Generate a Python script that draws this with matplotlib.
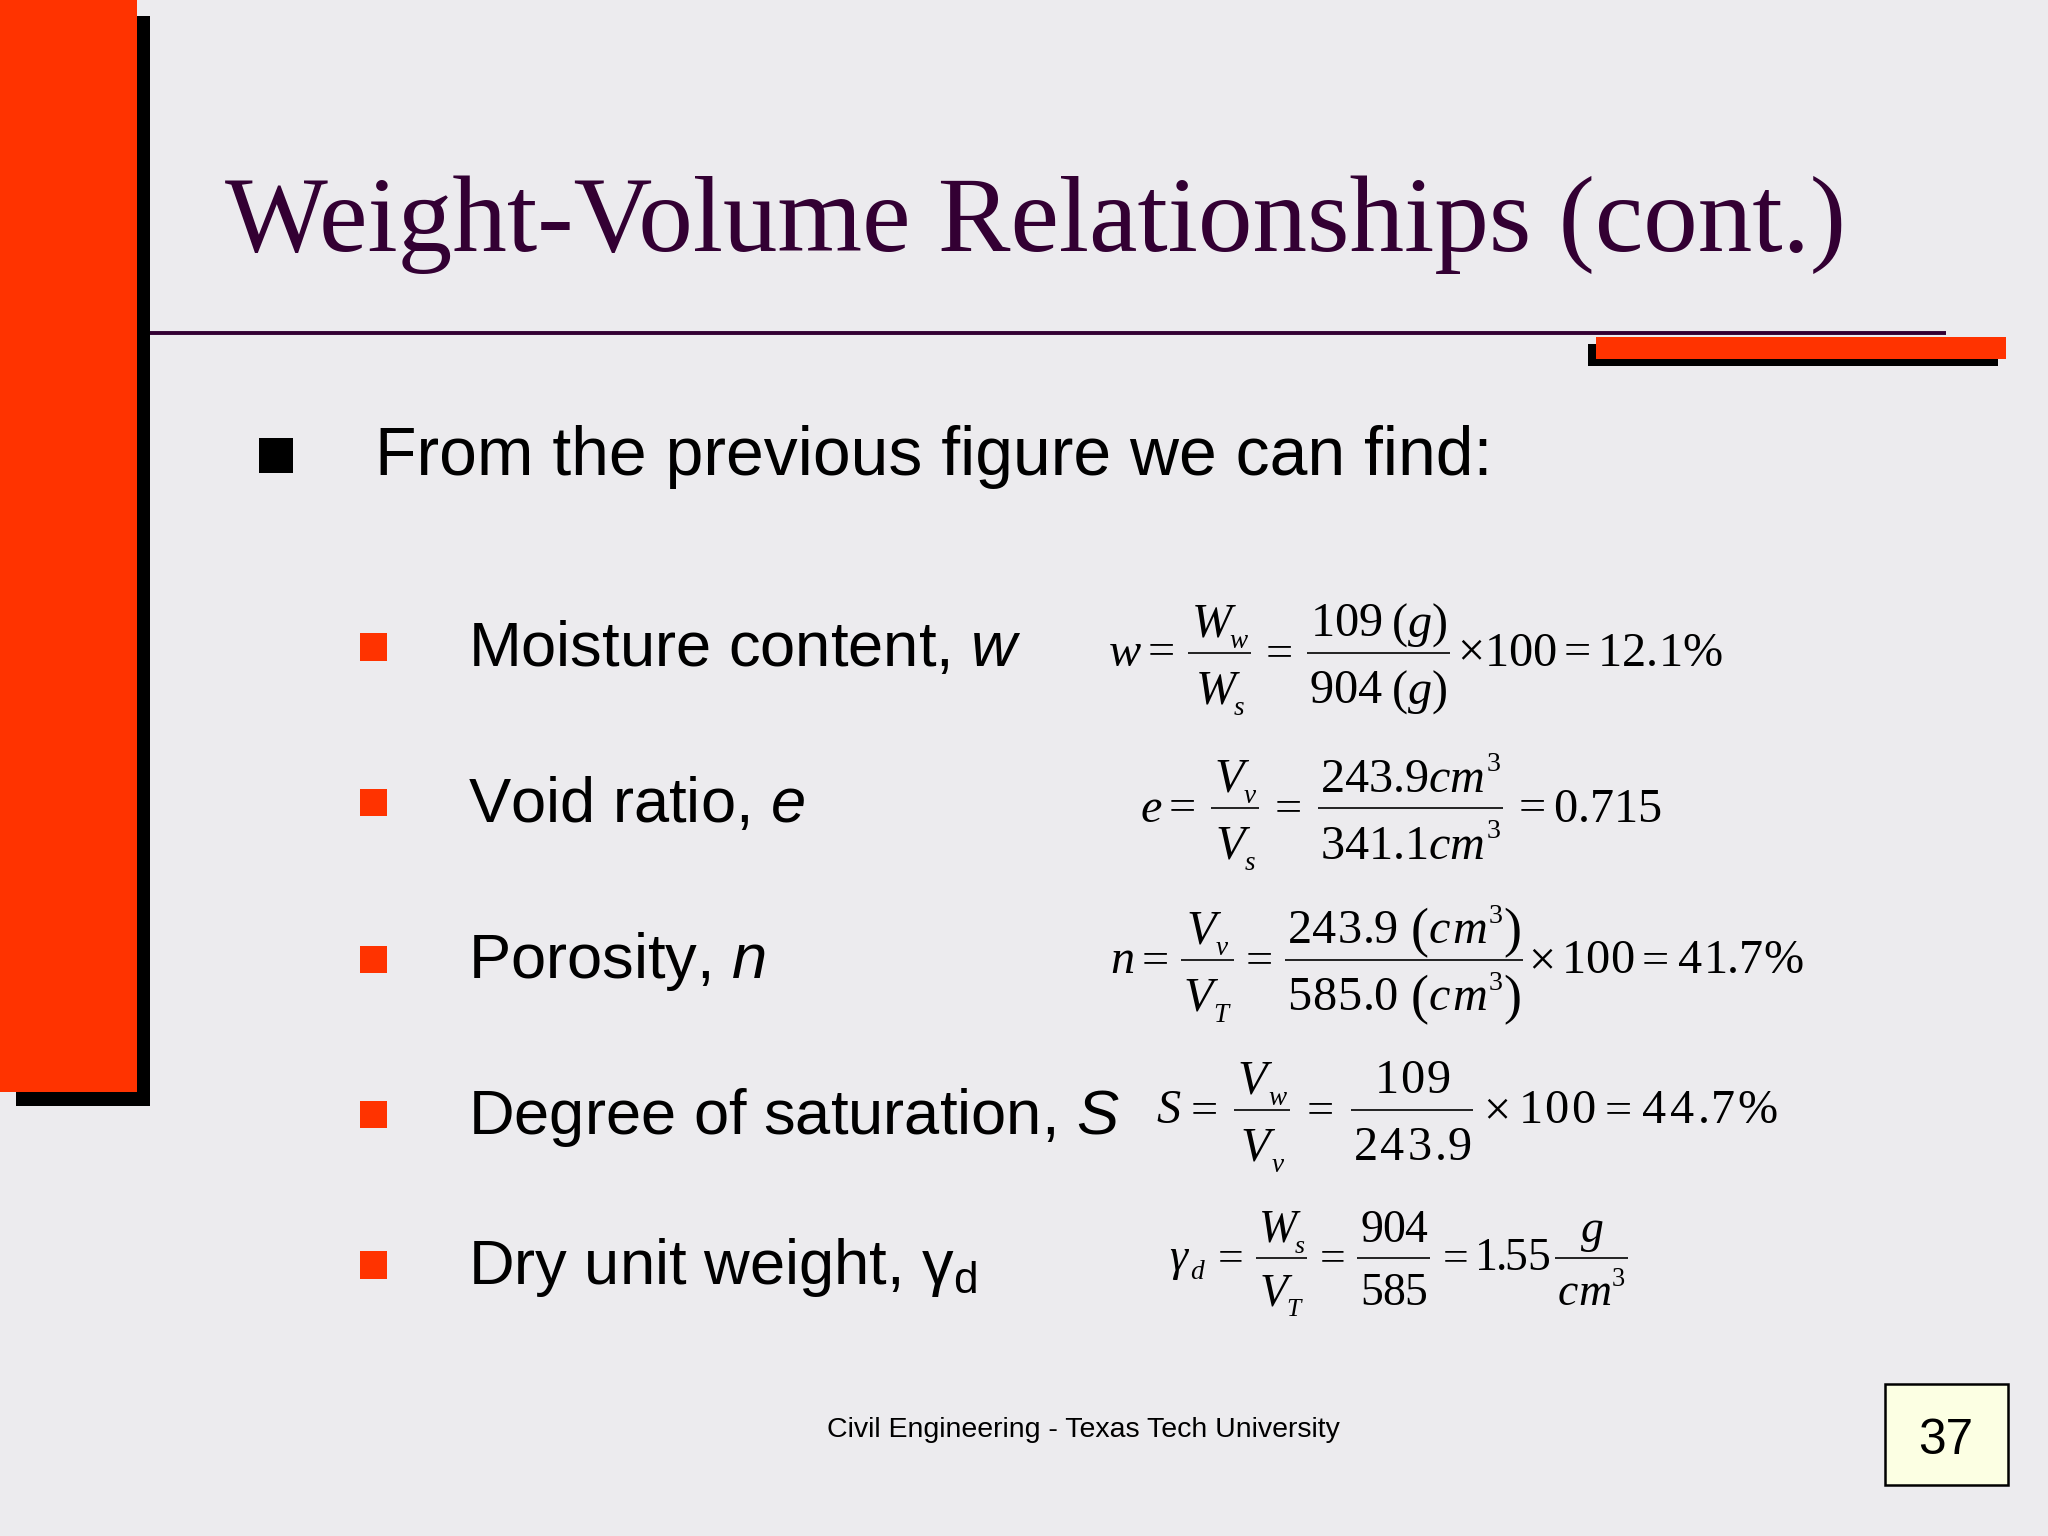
import re
import matplotlib
matplotlib.use("Agg")
import matplotlib.pyplot as plt
from matplotlib.patches import Rectangle

# ---------------- content ----------------
title = "Weight-Volume Relationships (cont.)"
intro = "From the previous figure we can find:"
item_labels = [
    r"Moisture content, $\mathsf{w}$",
    r"Void ratio, $\mathsf{e}$",
    r"Porosity, $\mathsf{n}$",
    r"Degree of saturation, $\mathsf{S}$",
    r"Dry unit weight, $\mathbf{\gamma_d}$",
]
footer = "Civil Engineering - Texas Tech University"
page_number = "37"


# equation pieces: (mathtext, scale, rise_em, kern_em)
def P(s, scale=1.0, rise=0.0, kern=0.0):
    return (s, scale, rise, kern)


def SUB(s):
    return P(s, 0.56, -0.24, -0.15)


def SUP(s):
    return P(s, 0.58, 0.42, 0.02)


def FR(num, den):
    return ("frac", num, den)


eq_moisture = [[P("w=")], FR([P("W"), SUB("w")], [P("W"), SUB("s")]), [P("=")],
               FR([P(r"109\,(g)")], [P(r"904\,(g)")]), [P(r"\times100=12.1\%")]]
eq_void = [[P("e=")], FR([P("V"), SUB("v")], [P("V"), SUB("s")]), [P("=")],
           FR([P("243.9cm"), SUP("3")], [P("341.1cm"), SUP("3")]), [P("=0.715")]]
eq_porosity = [[P("n=")], FR([P("V"), SUB("v")], [P("V"), SUB("T")]), [P("=")],
               FR([P(r"243.9\ "), P("(", 1.12, -0.06), P("cm"), SUP("3"),
                   P(")", 1.12, -0.06)],
                  [P(r"585.0\ "), P("(", 1.12, -0.06), P("cm"), SUP("3"),
                   P(")", 1.12, -0.06)]),
               [P(r"\times100=41.7\%")]]
eq_saturation = [[P("S=")], FR([P("V"), SUB("w")], [P("V"), SUB("v")]), [P("=")],
                 FR([P("109")], [P("243.9")]), [P(r"\times100=44.7\%")]]
eq_dry = [[P(r"\gamma"), P("d", 0.6, -0.2, 0.02), P("=", kern=0.12)],
          FR([P("W"), SUB("s")], [P("V"), SUB("T")]), [P("=")],
          FR([P("904")], [P("585")]), [P("=1.55")],
          FR([P("g")], [P("cm"), SUP("3")])]
equations = [eq_moisture, eq_void, eq_porosity, eq_saturation, eq_dry]
eq_track = [0.0, 0.0, 0.012, 0.05, -0.02]   # extra letter spacing (em)
eq_gap = [0.15, 0.18, 0.1, 0.2, 0.12]       # gap between items (em)
eq_em = [37, 37, 37, 37, 35]                # equation em size (layout px)

# ---------------- style ----------------
BG = "#ECEBEE"
RED = "#FF3300"
PURPLE = "#330033"
W, H = 1568, 1176          # layout units (reference pixel grid)
PT = 2048 / W * 0.72       # layout px (em) -> points at dpi 100

plt.rcParams["mathtext.fontset"] = "custom"
plt.rcParams["mathtext.rm"] = "Liberation Serif"
plt.rcParams["mathtext.it"] = "Liberation Serif:italic"
plt.rcParams["mathtext.sf"] = "Liberation Sans:italic"
plt.rcParams["mathtext.bf"] = "Liberation Sans"

fig = plt.figure(figsize=(20.48, 15.36), dpi=100)
fig.patch.set_facecolor(BG)
ax = fig.add_axes([0, 0, 1, 1])
ax.set_xlim(0, W)
ax.set_ylim(H, 0)
ax.axis("off")
ax.set_facecolor(BG)
renderer = fig.canvas.get_renderer()
TOKEN = re.compile(r"\\[a-zA-Z]+|\\.|[^\\]")
SPACES = {r"\ ": 0.25, r"\,": 0.17}


def width_of(t):
    return t.get_window_extent(renderer).width * W / 2048


def chunks_of(s, split_all):
    out = []
    for seg in re.split(r"(\\ |\\,)", s):
        if not seg:
            continue
        if seg in SPACES or not split_all:
            out.append(seg)
        else:
            out.extend(TOKEN.findall(seg))
    return out


def draw_row(x, base, parts, track, em):
    texts = []
    last_track = 0.0
    for s, scale, rise, kern in parts:
        x += kern * em
        tracked = bool(track) and scale == 1.0
        last_track = 0.0
        for c in chunks_of(s, tracked):
            if c in SPACES:
                x += SPACES[c] * em * scale
                continue
            t = ax.text(x, base - rise * em, "$" + c + "$", fontsize=em * scale * PT,
                        color="black", ha="left", va="baseline")
            x += width_of(t)
            if c.endswith("=") or c.endswith(r"\times"):
                x += 0.15 * em * scale
            if tracked:
                x += track * em
                last_track = track * em
            texts.append(t)
    return texts, x - last_track


def shift(texts, dx):
    for t in texts:
        t.set_x(t.get_position()[0] + dx)


def draw_equation(x, bar_y, items, track, gap_em, em):
    base = bar_y + 0.27 * em
    gap = gap_em * em
    for k, item in enumerate(items):
        if k > 0:
            x += gap
        if isinstance(item, tuple) and item[0] == "frac":
            nt, nx = draw_row(0, bar_y - 0.35 * em, item[1], track, em)
            dt, dx = draw_row(0, bar_y + 1.04 * em, item[2], track, em)
            pad = 0.05 * em
            wbar = max(nx, dx) + 2 * pad
            shift(nt, x + (wbar - nx) / 2)
            shift(dt, x + (wbar - dx) / 2)
            ax.plot([x, x + wbar], [bar_y, bar_y], color="black", lw=1.2,
                    solid_capstyle="butt")
            x += wbar
        else:
            texts, x = draw_row(x, base, item, track, em)
    return x


# left red bar with black shadow
ax.add_patch(Rectangle((12, 12), 103, 835, facecolor="black", edgecolor="none"))
ax.add_patch(Rectangle((0, 0), 105, 836, facecolor=RED, edgecolor="none"))

# title rule and small red bar with shadow
ax.plot([115, 1490], [255, 255], color=PURPLE, lw=2.8, solid_capstyle="butt")
ax.add_patch(Rectangle((1216, 263), 314, 17, facecolor="black", edgecolor="none"))
ax.add_patch(Rectangle((1222, 258), 314, 16.5, facecolor=RED, edgecolor="none"))

# title
ax.text(172, 192, title, fontsize=83.5 * PT, family="Liberation Serif",
        color=PURPLE, ha="left", va="baseline")

# first level bullet
ax.add_patch(Rectangle((198, 335), 26, 27, facecolor="black", edgecolor="none"))
ax.text(287, 364, intro, fontsize=52 * PT, family="Liberation Sans",
        color="black", ha="left", va="baseline")

# second level items
label_base = [510, 629, 749, 868, 983]
eq_x = [848, 873, 850, 885, 895]
eq_bar = [500, 619, 735, 850, 963]
for i, lab in enumerate(item_labels):
    yb = label_base[i]
    ax.add_patch(Rectangle((276, yb - 25), 20, 21, facecolor=RED, edgecolor="none"))
    ax.text(358, yb, lab, fontsize=48.4 * PT, family="Liberation Sans",
            color="black", ha="left", va="baseline")
    draw_equation(eq_x[i], eq_bar[i], equations[i], eq_track[i], eq_gap[i], eq_em[i])

# footer
ax.text(829.5, 1100, footer, fontsize=21.8 * PT, family="Liberation Sans",
        color="black", ha="center", va="baseline")

# page number box
ax.add_patch(Rectangle((1443, 1060), 94, 77, facecolor="#FCFFE3",
                       edgecolor="black", lw=1.8))
ax.text(1490, 1113, page_number, fontsize=38 * PT, family="Liberation Sans",
        color="black", ha="center", va="baseline")

fig.savefig("out.png", dpi=100, facecolor=BG)
